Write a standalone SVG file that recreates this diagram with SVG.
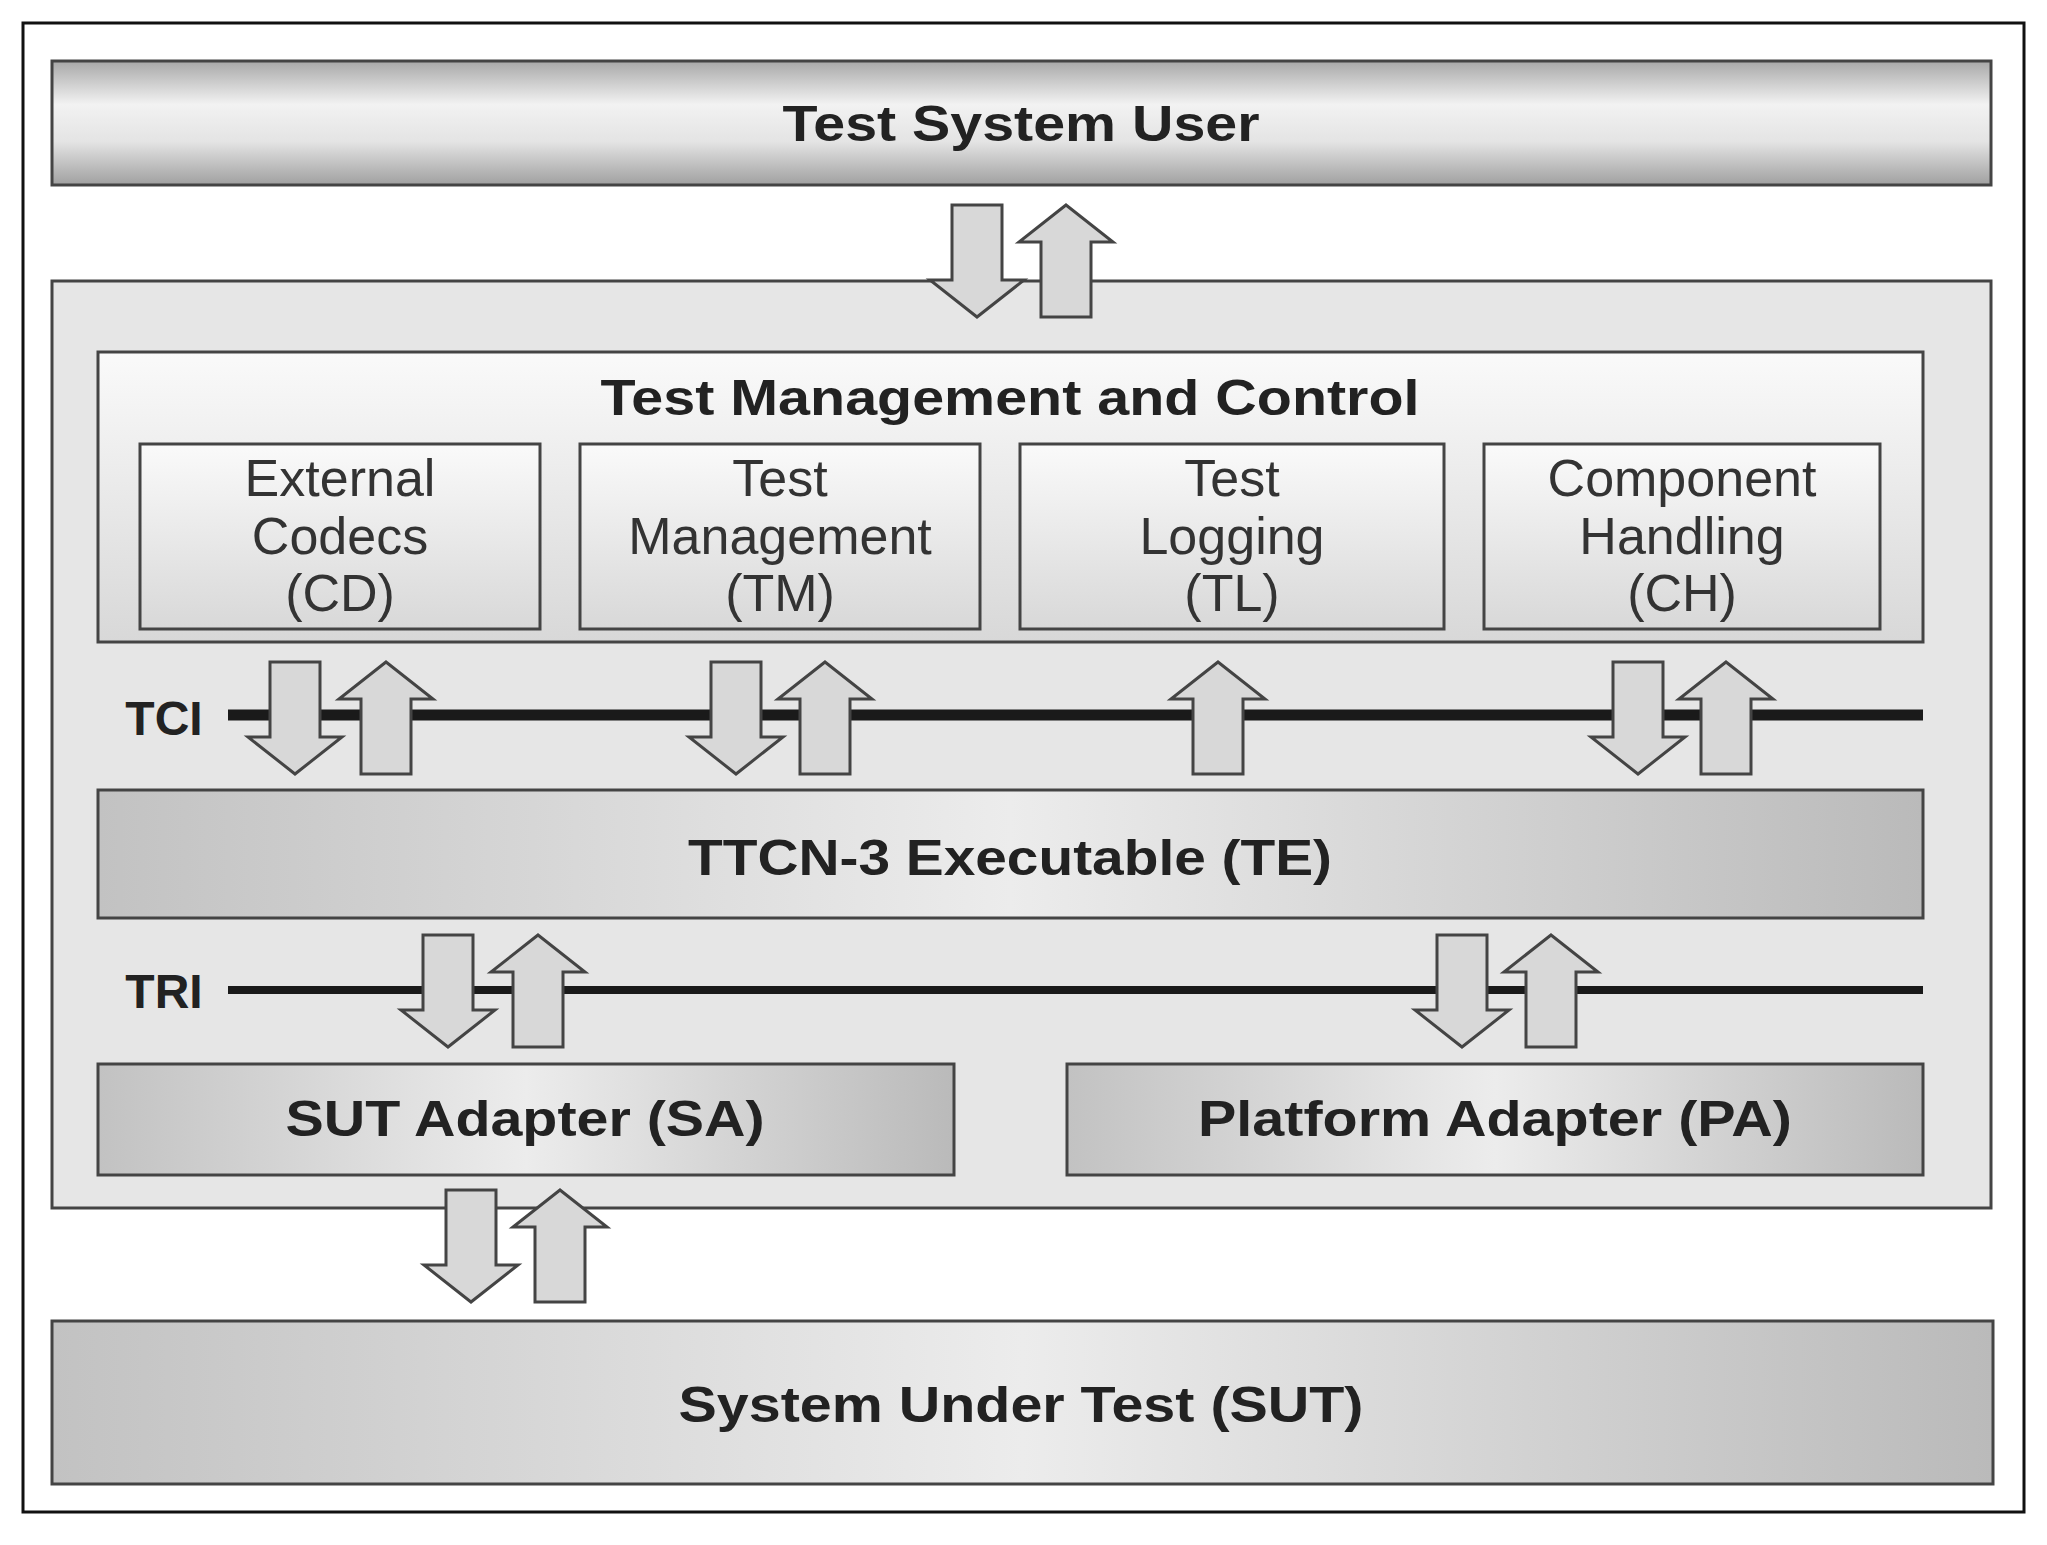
<svg xmlns="http://www.w3.org/2000/svg" xmlns:xlink="http://www.w3.org/1999/xlink" width="2047" height="1545" viewBox="0 0 2047 1545">
<style>
.b{font-family:"Liberation Sans",Arial,sans-serif;font-weight:bold;fill:#222;text-anchor:middle}
.r{font-family:"Liberation Sans",Arial,sans-serif;fill:#333;text-anchor:middle;font-size:52px}
.box{stroke:#444;stroke-width:3}
.arr{fill:#d8d8d8;stroke:#444;stroke-width:3;stroke-linejoin:miter}
</style>
<defs>
<linearGradient id="gv" x1="0" y1="0" x2="0" y2="1">
<stop offset="0" stop-color="#a8a8a8"/><stop offset="0.35" stop-color="#f2f2f2"/><stop offset="0.65" stop-color="#e4e4e4"/><stop offset="1" stop-color="#a0a0a0"/>
</linearGradient>
<linearGradient id="gh" x1="0" y1="0" x2="1" y2="0">
<stop offset="0" stop-color="#c2c2c2"/><stop offset="0.5" stop-color="#ececec"/><stop offset="1" stop-color="#bababa"/>
</linearGradient>
<linearGradient id="gs" x1="0" y1="0" x2="0" y2="1">
<stop offset="0" stop-color="#fafafa"/><stop offset="1" stop-color="#d8d8d8"/>
</linearGradient>
<path id="dn" class="arr" d="M-25,0 H25 V75 H47 L0,112 L-47,75 H-25 Z"/>
<path id="up" class="arr" d="M0,0 L47,37 H25 V112 H-25 V37 H-47 Z"/>
</defs>
<rect x="23" y="23" width="2001" height="1489" fill="#fff" stroke="#111" stroke-width="3"/>
<g id="user"><rect class="box" x="52" y="61" width="1939" height="124" fill="url(#gv)"/><text class="b" x="1021" y="141" font-size="50" textLength="477" lengthAdjust="spacingAndGlyphs">Test System User</text></g>
<g id="container"><rect class="box" x="52" y="281" width="1939" height="927" fill="#e6e6e6"/></g>
<g id="tmc"><rect class="box" x="98" y="352" width="1825" height="290" fill="url(#gs)"/><text class="b" x="1010" y="415" font-size="50" textLength="819" lengthAdjust="spacingAndGlyphs">Test Management and Control</text></g>
<g id="cd"><rect class="box" x="140" y="444" width="400" height="185" fill="url(#gs)"/><text class="r" x="340" y="496">External</text><text class="r" x="340" y="554">Codecs</text><text class="r" x="340" y="611">(CD)</text></g>
<g id="tm"><rect class="box" x="580" y="444" width="400" height="185" fill="url(#gs)"/><text class="r" x="780" y="496">Test</text><text class="r" x="780" y="554">Management</text><text class="r" x="780" y="611">(TM)</text></g>
<g id="tl"><rect class="box" x="1020" y="444" width="424" height="185" fill="url(#gs)"/><text class="r" x="1232" y="496">Test</text><text class="r" x="1232" y="554">Logging</text><text class="r" x="1232" y="611">(TL)</text></g>
<g id="ch"><rect class="box" x="1484" y="444" width="396" height="185" fill="url(#gs)"/><text class="r" x="1682" y="496">Component</text><text class="r" x="1682" y="554">Handling</text><text class="r" x="1682" y="611">(CH)</text></g>
<g id="te"><rect class="box" x="98" y="790" width="1825" height="128" fill="url(#gh)"/><text class="b" x="1010" y="875" font-size="50" textLength="644" lengthAdjust="spacingAndGlyphs">TTCN-3 Executable (TE)</text></g>
<g id="sa"><rect class="box" x="98" y="1064" width="856" height="111" fill="url(#gh)"/><text class="b" x="525" y="1136" font-size="50" textLength="479" lengthAdjust="spacingAndGlyphs">SUT Adapter (SA)</text></g>
<g id="pa"><rect class="box" x="1067" y="1064" width="856" height="111" fill="url(#gh)"/><text class="b" x="1495" y="1136" font-size="50" textLength="594" lengthAdjust="spacingAndGlyphs">Platform Adapter (PA)</text></g>
<g id="sut"><rect class="box" x="52" y="1321" width="1941" height="163" fill="url(#gh)"/><text class="b" x="1021" y="1422" font-size="50" textLength="685" lengthAdjust="spacingAndGlyphs">System Under Test (SUT)</text></g>
<g id="tci"><text class="b" x="164" y="735" font-size="48">TCI</text><line x1="228" y1="715" x2="1923" y2="715" stroke="#1a1a1a" stroke-width="11"/></g>
<g id="tri"><text class="b" x="164" y="1008" font-size="48">TRI</text><line x1="228" y1="990" x2="1923" y2="990" stroke="#1a1a1a" stroke-width="8"/></g>
<g id="connectors">
<use xlink:href="#dn" transform="translate(977,205)"/><use xlink:href="#up" transform="translate(1066,205)"/>
<use xlink:href="#dn" transform="translate(295,662)"/><use xlink:href="#up" transform="translate(386,662)"/>
<use xlink:href="#dn" transform="translate(736,662)"/><use xlink:href="#up" transform="translate(825,662)"/>
<use xlink:href="#up" transform="translate(1218,662)"/>
<use xlink:href="#dn" transform="translate(1638,662)"/><use xlink:href="#up" transform="translate(1726,662)"/>
<use xlink:href="#dn" transform="translate(448,935)"/><use xlink:href="#up" transform="translate(538,935)"/>
<use xlink:href="#dn" transform="translate(1462,935)"/><use xlink:href="#up" transform="translate(1551,935)"/>
<use xlink:href="#dn" transform="translate(471,1190)"/><use xlink:href="#up" transform="translate(560,1190)"/>
</g>
</svg>
